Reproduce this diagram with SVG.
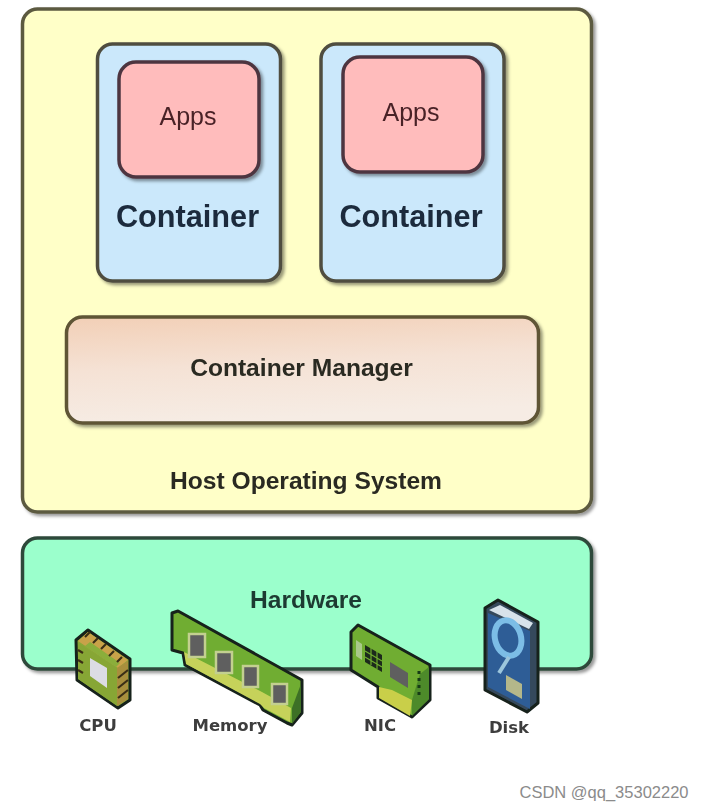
<svg xmlns="http://www.w3.org/2000/svg" width="704" height="811" viewBox="0 0 704 811">
<defs>
<linearGradient id="mgr" x1="0" y1="0" x2="0.2" y2="1"><stop offset="0" stop-color="#f2cfb6"/><stop offset="0.5" stop-color="#f5e2d5"/><stop offset="1" stop-color="#f6ece4"/></linearGradient>
<filter id="sh" x="-10%" y="-10%" width="120%" height="120%"><feDropShadow dx="2.500" dy="2.500" stdDeviation="1.800" flood-color="#000" flood-opacity="0.4"/></filter>
<filter id="soft" x="-5%" y="-5%" width="110%" height="110%"><feGaussianBlur stdDeviation="0.7"/></filter>
</defs>
<style>
.box{stroke-width:3.500;filter:url(#sh)}
text{font-family:"Liberation Sans",Arial,sans-serif;text-anchor:middle}
.b{font-weight:bold;fill:#2b2b22;font-size:24.600px}
.c{font-weight:bold;fill:#1c2c3c;font-size:30.700px}
.a{fill:#4a2228;font-size:25px}
.s{font-weight:bold;fill:#3d3d3d;font-size:16.500px;font-family:"DejaVu Sans",sans-serif}
.ol{stroke:#16201a;stroke-width:3;stroke-linejoin:round}
.chip{fill:#5e5e5e;stroke:#c3d090;stroke-width:2.500}
</style>
<rect width="704" height="811" fill="#fff"/>
<g filter="url(#soft)">
<g id="host"><rect class="box" x="22.500" y="9" width="569" height="503" rx="15" fill="#ffffc8" stroke="#5c5a40"/><text class="b" x="306" y="489">Host Operating System</text></g>
<g id="container1"><rect class="box" x="97.500" y="44" width="183" height="237" rx="15" fill="#cbe8fb" stroke="#4f4e40"/><text class="c" x="187.500" y="227">Container</text></g>
<g id="apps1"><rect class="box" x="119" y="62" width="140" height="115" rx="17" fill="#ffbcbc" stroke="#4e3640"/><text class="a" x="188" y="125">Apps</text></g>
<g id="container2"><rect class="box" x="321" y="44" width="183" height="237" rx="15" fill="#cbe8fb" stroke="#4f4e40"/><text class="c" x="411" y="227">Container</text></g>
<g id="apps2"><rect class="box" x="343" y="57" width="140" height="115" rx="17" fill="#ffbcbc" stroke="#4e3640"/><text class="a" x="411" y="121">Apps</text></g>
<g id="manager"><rect class="box" x="66.500" y="317" width="472" height="106" rx="16" fill="url(#mgr)" stroke="#5e5436"/><text class="b" x="301.500" y="376">Container Manager</text></g>
<g id="hardware"><rect class="box" x="22.500" y="538" width="569" height="131" rx="15" fill="#9bffcc" stroke="#2f4a3a"/><text class="b" x="306" y="608" style="fill:#1f3a30">Hardware</text></g>
<g id="cpu">
<polygon class="ol" points="76,640 88,630 130,659 130,700 118,708 77,680" fill="#8aa838"/>
<polygon points="78,641 88,632 128,660 118,668" fill="#c9a24a"/>
<polygon points="85,646 90,642 120,663 116,667" fill="#8bae3a"/>
<polygon points="78,643 117,668 117,706 78,679" fill="#87a635"/>
<polygon points="90,658 107,668 107,688 90,676" fill="#dcdce4"/>
<polygon points="117,668 128,661 128,699 117,706" fill="#a88f3e"/>
<path d="M90,632L85,637M98,638L93,643M106,644L101,649M114,651L109,656M122,657L117,662M128,670L118,678M128,680L118,688M128,690L118,698M78,650L83,653M78,660L83,663M78,670L83,673" stroke="#3b2f16" stroke-width="2.200" fill="none"/>
<text class="s" x="98" y="731">CPU</text></g>
<g id="memory">
<polygon class="ol" points="172,613 178,611 302,680 302,713 292,725 287,723 263,710 260,705 185,665 183,653 172,650" fill="#6fad30"/>
<polygon points="184,652 186,664 260,704 264,708 290,722 291,708 262,692" fill="#c6d25a"/>
<rect class="chip" x="189" y="634" width="16" height="23"/>
<rect class="chip" x="216" y="652" width="16" height="21"/>
<rect class="chip" x="243" y="666" width="15" height="21"/>
<rect class="chip" x="272" y="684" width="15" height="20"/>
<polygon points="292,708 301,684 301,712 292,724" fill="#3e6f25"/>
<text class="s" x="230" y="731">Memory</text></g>
<g id="nic">
<polygon class="ol" points="351,632 358,625 430,665 430,700 412,717 378,698 378,687 351,670" fill="#6fad30"/>
<polygon points="379,687 379,698 410,716 412,700 392,690" fill="#c9cf4a"/>
<polygon points="412,700 412,716 429,699 429,667 420,674" fill="#4d8a2a"/>
<polygon points="365,645 382,655 382,672 365,662" fill="#1f2a1a"/>
<path d="M365,651L382,661M365,657L382,667M371,648V665M377,651V669" stroke="#6fad30" stroke-width="1.200" fill="none"/>
<polygon points="390,662 408,673 408,688 390,677" fill="#5e5e5e"/>
<polygon points="356,640 362,644 362,660 356,656" fill="#a9c98a"/>
<path d="M419,671V697" stroke="#173a12" stroke-width="3" stroke-dasharray="3 4" fill="none"/>
<text class="s" x="380" y="731">NIC</text></g>
<g id="disk">
<polygon class="ol" points="485,608 498,600 538,622 538,703 527,712 485,690" fill="#364a5c"/>
<polygon points="489,610 500,605 533,623 529,629" fill="#d7e2ea"/>
<polygon points="488,613 530,631 530,709 488,687" fill="#2f5d96"/>
<ellipse cx="508" cy="638" rx="13" ry="18" fill="none" stroke="#7cbde6" stroke-width="6" transform="rotate(-15 508 638)"/>
<path d="M509,657L499,673" stroke="#9cc6dc" stroke-width="4"/>
<polygon points="506,675 522,684 522,699 506,690" fill="#b4b78a"/>
<text class="s" x="509" y="733">Disk</text></g>
<g id="connectors"/>
</g>
<text x="604" y="798" style="font-size:16.500px;fill:#8b8b8b">CSDN @qq_35302220</text>
</svg>
